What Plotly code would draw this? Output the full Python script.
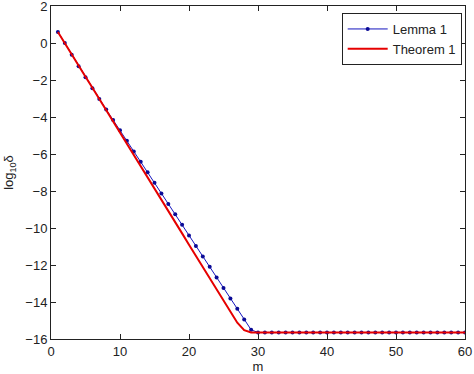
import plotly.graph_objects as go

m = list(range(1, 61))
lemma = [0.60, 0.00, -0.63, -1.25, -1.85, -2.45, -3.03, -3.60, -4.16, -4.72,
         -5.29, -5.86, -6.42, -6.99, -7.56, -8.13, -8.70, -9.26, -9.83, -10.40,
         -10.97, -11.54, -12.10, -12.67, -13.24, -13.81, -14.37, -14.94, -15.50] + [-15.65] * 31
theorem = [0.60, -0.02, -0.62, -1.22, -1.82, -2.42, -3.02, -3.62, -4.22, -4.82,
           -5.42, -6.02, -6.63, -7.24, -7.85, -8.46, -9.07, -9.68, -10.29, -10.90,
           -11.51, -12.12, -12.73, -13.34, -13.95, -14.57, -15.12, -15.52, -15.65] + [-15.65] * 31

xticks = [0, 10, 20, 30, 40, 50, 60]
yticks = [-16, -14, -12, -10, -8, -6, -4, -2, 0, 2]

FONT = "Liberation Sans, Arial"

fig = go.Figure()
fig.add_trace(go.Scatter(x=m, y=lemma, mode="lines+markers", name="Lemma 1",
                         line=dict(color="rgb(20,20,190)", width=1),
                         marker=dict(color="rgb(10,10,150)", size=4, symbol="circle")))
fig.add_trace(go.Scatter(x=m, y=theorem, mode="lines", name="Theorem 1",
                         line=dict(color="rgb(230,0,0)", width=2)))

axis_common = dict(showline=True, linecolor="#222", linewidth=1, mirror="ticks",
                   ticks="inside", ticklen=5, tickcolor="#222", showgrid=False,
                   zeroline=False, ticklabeloverflow="allow", automargin=False,
                   tickfont=dict(family=FONT, size=13, color="#222"))
fig.update_xaxes(range=[0, 60], tickvals=xticks, title=dict(text="m", standoff=2,
                 font=dict(family=FONT, size=13, color="#222")), **axis_common)
fig.update_yaxes(range=[-16, 2], tickvals=yticks, title=dict(text="log<sub>10</sub>δ", standoff=8,
                 font=dict(family=FONT, size=13, color="#222")), **axis_common)

fig.update_layout(
    width=474, height=374,
    margin=dict(l=51, r=9, t=6, b=35),
    plot_bgcolor="white", paper_bgcolor="white",
    showlegend=True,
    legend=dict(x=0.992, xanchor="right", y=0.979, yanchor="top",
                bgcolor="white", bordercolor="#222", borderwidth=1,
                font=dict(family=FONT, size=13, color="#222"),
                tracegroupgap=0, itemwidth=40),
)
fig.write_html("out.html")
